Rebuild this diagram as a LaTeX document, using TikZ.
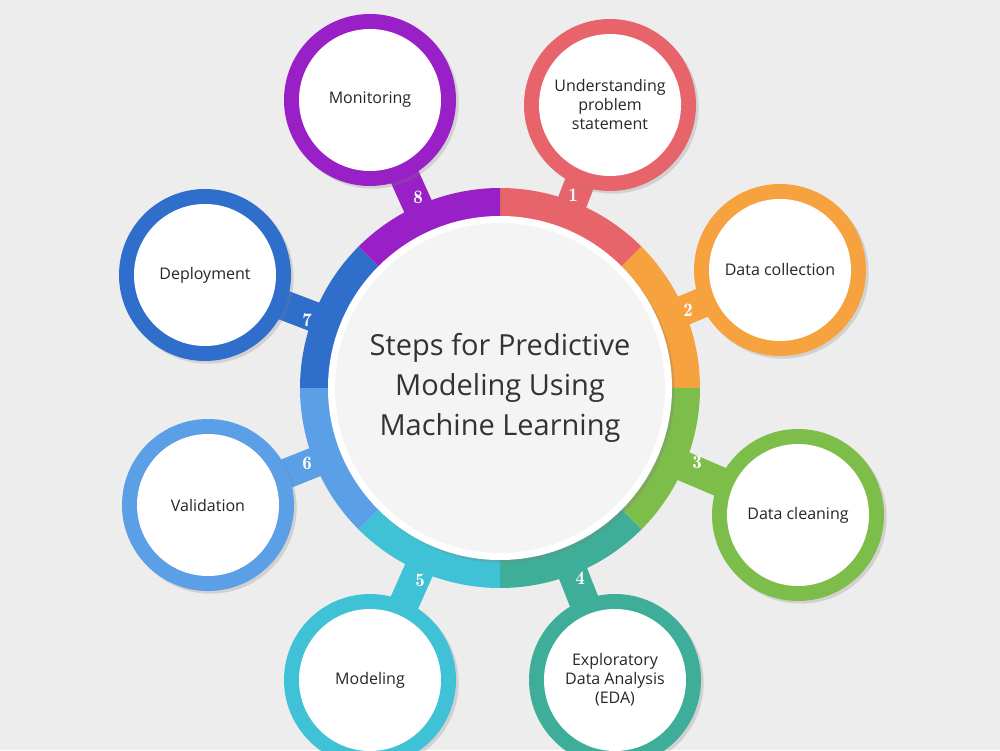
\documentclass[tikz,border=0pt]{standalone}
\usepackage{fontspec}
\setmainfont{Open Sans}
\usetikzlibrary{shadows,calc}
\definecolor{bg}{HTML}{EDEDED}
\definecolor{c1}{HTML}{E8646B}
\definecolor{c2}{HTML}{F6A23E}
\definecolor{c3}{HTML}{7DBE4B}
\definecolor{c4}{HTML}{3FAE98}
\definecolor{c5}{HTML}{3FC2D5}
\definecolor{c6}{HTML}{5B9FE6}
\definecolor{c7}{HTML}{2F6ECB}
\definecolor{c8}{HTML}{991FC7}
\tikzset{sat/.style={circle,minimum size=172pt,inner sep=0pt},
 satin/.style={circle,fill=white,minimum size=142pt,inner sep=0pt,align=center,font=\fontsize{16}{19}\selectfont,text=black!85},
 num/.style={text=white,font=\fontfamily{lmr}\bfseries\fontsize{19}{19}\selectfont}}
\begin{document}
\begin{tikzpicture}[x=1pt,y=1pt]
\useasboundingbox (0,0) rectangle (1000,750);
\clip (0,0) rectangle (1000,750);
\fill[bg] (0,0) rectangle (1000,750);
\coordinate (c) at (500,362);
\foreach \i/\x/\y/\nx/\ny/\lab in {1/610/105/573/195/{Understanding\\problem\\statement},2/780/270/688/310/{Data collection},3/798/515/697/462/{Data cleaning},4/615/680/580/578/{Exploratory\\Data Analysis\\(EDA)},5/370/680/420/580/{Modeling},6/208/505/307/463/{Validation},7/205/275/307/320/{Deployment},8/370/100/418/197/{Monitoring}}{
  \coordinate (p\i) at (\x,750-\y);
  \draw[line width=30pt,c\i] (c) -- (p\i);
  \node[sat,fill=c\i,drop shadow={opacity=0.25}] (s\i) at (p\i) {};
  \node[satin] (t\i) at (p\i) {\lab};
  \pgfmathsetmacro\a{135-45*\i}
  \pgfmathsetmacro\b{90-45*\i}
  \fill[c\i] (c) ++(\a:200) arc[start angle=\a,end angle=\b,radius=200] -- ++(\b+180:30) arc[start angle=\b,end angle=\a,radius=170] -- cycle;
  \node[num] (n\i) at (\nx,750-\ny) {\i};
}
\node[circle,fill=white,minimum size=344pt,inner sep=0pt,drop shadow={opacity=0.3}] (w) at (c) {};
\node[circle,fill=bg!60!white,minimum size=330pt,inner sep=0pt,align=center,font=\fontsize{29}{40}\selectfont,text=black!80] (m) at (c) {Steps for Predictive\\Modeling Using\\Machine Learning};
\end{tikzpicture}
\end{document}
